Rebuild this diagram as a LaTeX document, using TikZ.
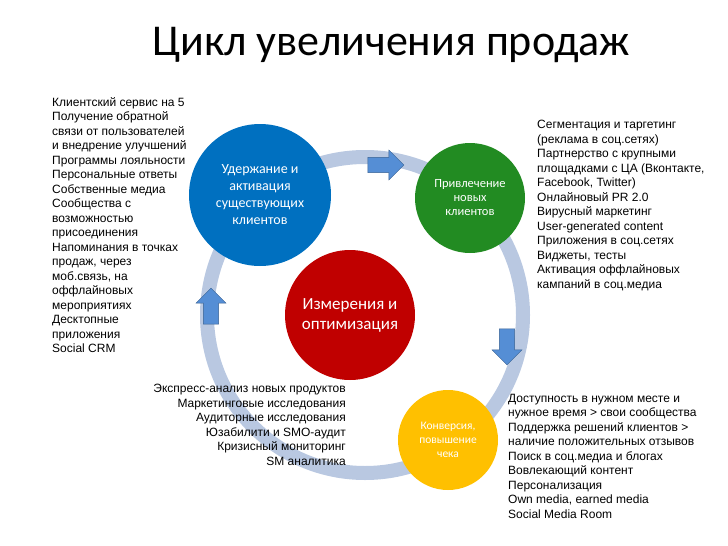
\documentclass[tikz,border=0pt]{standalone}
\usepackage{fontspec}
\setmainfont{Carlito}
\newfontfamily\txtfont{Liberation Sans}
\usetikzlibrary{shapes.arrows,positioning}
\definecolor{ringc}{RGB}{185,200,225}
\definecolor{bluec}{RGB}{0,112,192}
\definecolor{greenc}{RGB}{34,139,34}
\definecolor{redc}{RGB}{192,0,0}
\definecolor{yellowc}{RGB}{255,192,0}
\definecolor{arrowc}{RGB}{85,142,213}
\definecolor{arrowd}{RGB}{55,96,146}
\begin{document}
\begin{tikzpicture}[x=1pt,y=-1pt,
    stage/.style={circle, text=white, align=center, inner sep=0pt},
    notes/.style={font=\txtfont\fontsize{12}{14.5}\selectfont, inner sep=0pt},
    blockarrow/.style={single arrow, draw=arrowd, fill=arrowc, minimum height=36pt, minimum width=30pt, single arrow head extend=4pt, inner sep=4pt}
]
\useasboundingbox (0,0) rectangle (728,546);

\node[font=\fontsize{44}{48}\selectfont] (title) at (391,45) {Цикл увеличения продаж};

\draw[ringc, line width=14pt] (365,315) circle (158);

\node[blockarrow] (arrtop) at (382,165) {};
\node[blockarrow, rotate=-90] (arrright) at (507,343) {};
\node[blockarrow, rotate=90] (arrleft) at (211,310) {};

\node[stage, fill=bluec, minimum size=142pt, font=\fontsize{14}{17}\selectfont] (keep) at (260,195) {Удержание и\\активация\\существующих\\клиентов};
\node[stage, fill=greenc, minimum size=110pt, font=\fontsize{12.5}{14}\selectfont] (attract) at (470,198) {Привлечение\\новых\\клиентов};
\node[stage, fill=redc, minimum size=130pt, font=\fontsize{17}{20}\selectfont] (measure) at (350,315) {Измерения и\\оптимизация};
\node[stage, fill=yellowc, minimum size=100pt, font=\fontsize{11.5}{14}\selectfont] (convert) at (448,440) {Конверсия,\\повышение\\чека};

\node[notes, anchor=north west, align=left] (keepnotes) at (52,97) {Клиентский сервис на 5\\Получение обратной\\связи от пользователей\\и внедрение улучшений\\Программы лояльности\\Персональные ответы\\Собственные медиа\\Сообщества с\\возможностью\\присоединения\\Напоминания в точках\\продаж, через\\моб.связь, на\\оффлайновых\\мероприятиях\\Десктопные\\приложения\\Social CRM};

\node[notes, anchor=north west, align=left] (attractnotes) at (537,120) {Сегментация и таргетинг\\(реклама в соц.сетях)\\Партнерство с крупными\\площадками с ЦА (Вконтакте,\\Facebook, Twitter)\\Онлайновый PR 2.0\\Вирусный маркетинг\\User-generated content\\Приложения в соц.сетях\\Виджеты, тесты\\Активация оффлайновых\\кампаний в соц.медиа};

\node[notes, anchor=north east, align=right] (measurenotes) at (346,384) {Экспресс-анализ новых продуктов\\Маркетинговые исследования\\Аудиторные исследования\\Юзабилити и SMO-аудит\\Кризисный мониторинг\\SM аналитика};

\node[notes, anchor=north west, align=left] (convertnotes) at (508,394) {Доступность в нужном месте и\\нужное время > свои сообщества\\Поддержка решений клиентов >\\наличие положительных отзывов\\Поиск в соц.медиа и блогах\\Вовлекающий контент\\Персонализация\\Own media, earned media\\Social Media Room};
\end{tikzpicture}
\end{document}
